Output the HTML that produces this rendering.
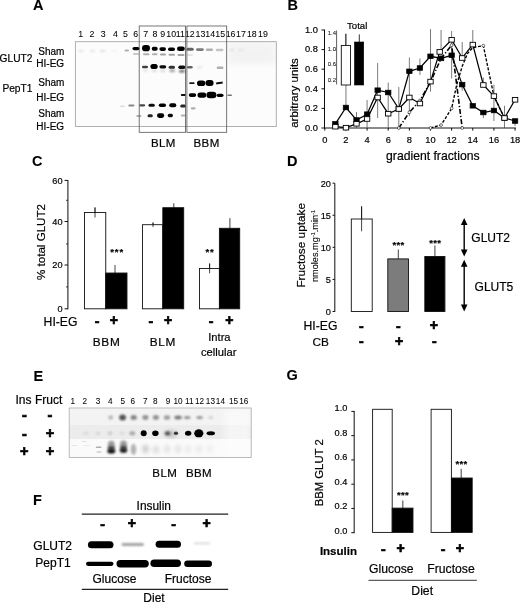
<!DOCTYPE html>
<html lang="en"><head><meta charset="utf-8"><title>Figure</title>
<style>
html,body{margin:0;padding:0;background:#fff;}
body{width:520px;height:603px;overflow:hidden;}
svg{display:block;font-family:'Liberation Sans', Arial, sans-serif;}
</style></head><body>
<svg width="520" height="603" viewBox="0 0 520 603" font-family="Liberation Sans, Arial, sans-serif">
<rect x="0" y="0" width="520" height="603" fill="#fff"/>
<defs>
<filter id="b05" x="-50%" y="-100%" width="200%" height="300%"><feGaussianBlur stdDeviation="0.5"/></filter>
<filter id="b1" x="-50%" y="-100%" width="200%" height="300%"><feGaussianBlur stdDeviation="0.62"/></filter>
<filter id="b15" x="-50%" y="-100%" width="200%" height="300%"><feGaussianBlur stdDeviation="1.2"/></filter>
<filter id="b2" x="-50%" y="-100%" width="200%" height="300%"><feGaussianBlur stdDeviation="2.0"/></filter>
<filter id="b3" x="-50%" y="-100%" width="200%" height="300%"><feGaussianBlur stdDeviation="3.0"/></filter>
<filter id="soft" x="-5%" y="-5%" width="110%" height="110%"><feGaussianBlur stdDeviation="0.35"/></filter>
</defs>
<g filter="url(#soft)">
<text x="32.9" y="9.8" font-size="14.5" text-anchor="start" font-weight="bold" fill="#000" stroke="#000" stroke-width="0.1">A</text>
<rect x="75.4" y="41.7" width="200.9" height="84.8" fill="#fcfcfc" stroke="#a8a8a8" stroke-width="0.9"/>
<rect x="228" y="42.5" width="47.5" height="22" fill="#000" opacity="0.035" filter="url(#b3)"/>
<text x="80.8" y="36.5" font-size="8.8" text-anchor="middle" font-weight="normal" fill="#000" stroke="#000" stroke-width="0.06">1</text>
<text x="92" y="36.5" font-size="8.8" text-anchor="middle" font-weight="normal" fill="#000" stroke="#000" stroke-width="0.06">2</text>
<text x="103.3" y="36.5" font-size="8.8" text-anchor="middle" font-weight="normal" fill="#000" stroke="#000" stroke-width="0.06">3</text>
<text x="115.5" y="36.5" font-size="8.8" text-anchor="middle" font-weight="normal" fill="#000" stroke="#000" stroke-width="0.06">4</text>
<text x="125.4" y="36.5" font-size="8.8" text-anchor="middle" font-weight="normal" fill="#000" stroke="#000" stroke-width="0.06">5</text>
<text x="135.7" y="36.5" font-size="8.8" text-anchor="middle" font-weight="normal" fill="#000" stroke="#000" stroke-width="0.06">6</text>
<text x="145.7" y="36.5" font-size="8.8" text-anchor="middle" font-weight="normal" fill="#000" stroke="#000" stroke-width="0.06">7</text>
<text x="154.9" y="36.5" font-size="8.8" text-anchor="middle" font-weight="normal" fill="#000" stroke="#000" stroke-width="0.06">8</text>
<text x="162.6" y="36.5" font-size="8.8" text-anchor="middle" font-weight="normal" fill="#000" stroke="#000" stroke-width="0.06">9</text>
<text x="171.2" y="36.5" font-size="8.8" text-anchor="middle" font-weight="normal" fill="#000" stroke="#000" stroke-width="0.06">10</text>
<text x="180.3" y="36.5" font-size="8.8" text-anchor="middle" font-weight="normal" fill="#000" stroke="#000" stroke-width="0.06">11</text>
<text x="189.8" y="36.5" font-size="8.8" text-anchor="middle" font-weight="normal" fill="#000" stroke="#000" stroke-width="0.06">12</text>
<text x="200.5" y="36.5" font-size="8.8" text-anchor="middle" font-weight="normal" fill="#000" stroke="#000" stroke-width="0.06">13</text>
<text x="210.2" y="36.5" font-size="8.8" text-anchor="middle" font-weight="normal" fill="#000" stroke="#000" stroke-width="0.06">14</text>
<text x="220.2" y="36.5" font-size="8.8" text-anchor="middle" font-weight="normal" fill="#000" stroke="#000" stroke-width="0.06">15</text>
<text x="230.6" y="36.5" font-size="8.8" text-anchor="middle" font-weight="normal" fill="#000" stroke="#000" stroke-width="0.06">16</text>
<text x="241" y="36.5" font-size="8.8" text-anchor="middle" font-weight="normal" fill="#000" stroke="#000" stroke-width="0.06">17</text>
<text x="251.8" y="36.5" font-size="8.8" text-anchor="middle" font-weight="normal" fill="#000" stroke="#000" stroke-width="0.06">18</text>
<text x="263" y="36.5" font-size="8.8" text-anchor="middle" font-weight="normal" fill="#000" stroke="#000" stroke-width="0.06">19</text>
<text x="-0.4" y="61.6" font-size="10.2" text-anchor="start" font-weight="normal" fill="#000" stroke="#000" stroke-width="0.2">GLUT2</text>
<text x="2.4" y="91.6" font-size="10.2" text-anchor="start" font-weight="normal" fill="#000" stroke="#000" stroke-width="0.2">PepT1</text>
<text x="38.3" y="54.5" font-size="10.0" text-anchor="start" font-weight="normal" fill="#000" stroke="#000" stroke-width="0.2">Sham</text>
<text x="36.3" y="67.0" font-size="10.0" text-anchor="start" font-weight="normal" fill="#000" stroke="#000" stroke-width="0.2">HI-EG</text>
<text x="38.3" y="85.7" font-size="10.0" text-anchor="start" font-weight="normal" fill="#000" stroke="#000" stroke-width="0.2">Sham</text>
<text x="36.3" y="100.5" font-size="10.0" text-anchor="start" font-weight="normal" fill="#000" stroke="#000" stroke-width="0.2">HI-EG</text>
<text x="38.3" y="117.3" font-size="10.0" text-anchor="start" font-weight="normal" fill="#000" stroke="#000" stroke-width="0.2">Sham</text>
<text x="36.3" y="130.3" font-size="10.0" text-anchor="start" font-weight="normal" fill="#000" stroke="#000" stroke-width="0.2">HI-EG</text>
<text x="151" y="147" font-size="11.5" text-anchor="start" font-weight="normal" fill="#000" letter-spacing="0.4" stroke="#000" stroke-width="0.2">BLM</text>
<text x="193.5" y="147" font-size="11.5" text-anchor="start" font-weight="normal" fill="#000" letter-spacing="0.4" stroke="#000" stroke-width="0.2">BBM</text>
<rect x="78.5" y="50.00" width="5.0" height="2" rx="1.00" fill="#000" opacity="0.1" filter="url(#b15)"/>
<rect x="90.0" y="50.00" width="5.0" height="2" rx="1.00" fill="#000" opacity="0.1" filter="url(#b15)"/>
<rect x="100.0" y="50.00" width="5.5" height="2" rx="1.00" fill="#000" opacity="0.12" filter="url(#b15)"/>
<rect x="112.0" y="50.00" width="5.0" height="2" rx="1.00" fill="#000" opacity="0.05" filter="url(#b15)"/>
<rect x="124.5" y="49.40" width="4.5" height="2.2" rx="1.10" fill="#000" opacity="0.3" filter="url(#b1)"/>
<rect x="132.5" y="47.00" width="7.0" height="3.2" rx="1.60" fill="#000" opacity="1" filter="url(#b1)"/>
<rect x="142.0" y="45.10" width="8.0" height="6.2" rx="3.10" fill="#000" opacity="1" filter="url(#b1)"/>
<rect x="151.7" y="46.80" width="6.0" height="4" rx="2.00" fill="#000" opacity="1" filter="url(#b1)"/>
<rect x="159.4" y="47.30" width="6.6" height="3.6" rx="1.80" fill="#000" opacity="1" filter="url(#b1)"/>
<rect x="168.0" y="47.50" width="7.0" height="3.6" rx="1.80" fill="#000" opacity="1" filter="url(#b1)"/>
<rect x="177.0" y="46.40" width="7.8" height="4.6" rx="2.30" fill="#000" opacity="1" filter="url(#b1)"/>
<rect x="186.5" y="47.70" width="7.2" height="3" rx="1.50" fill="#000" opacity="0.6" filter="url(#b1)"/>
<rect x="196.0" y="48.20" width="7.8" height="2.8" rx="1.40" fill="#000" opacity="0.5" filter="url(#b1)"/>
<rect x="205.8" y="48.55" width="7.2" height="2.5" rx="1.25" fill="#000" opacity="0.3" filter="url(#b1)"/>
<rect x="215.8" y="48.85" width="7.7" height="2.3" rx="1.15" fill="#000" opacity="0.22" filter="url(#b1)"/>
<rect x="229.5" y="49.00" width="4.5" height="2" rx="1.00" fill="#000" opacity="0.08" filter="url(#b15)"/>
<rect x="238.0" y="49.00" width="6.0" height="2" rx="1.00" fill="#000" opacity="0.06" filter="url(#b15)"/>
<rect x="133.0" y="53.10" width="6.0" height="1.8" rx="0.90" fill="#000" opacity="0.2" filter="url(#b1)"/>
<rect x="143.0" y="53.30" width="6.5" height="2" rx="1.00" fill="#000" opacity="0.3" filter="url(#b1)"/>
<rect x="152.0" y="53.30" width="5.5" height="2" rx="1.00" fill="#000" opacity="0.3" filter="url(#b1)"/>
<rect x="160.0" y="53.60" width="6.0" height="2" rx="1.00" fill="#000" opacity="0.35" filter="url(#b1)"/>
<rect x="168.5" y="53.80" width="6.5" height="2" rx="1.00" fill="#000" opacity="0.35" filter="url(#b1)"/>
<rect x="177.5" y="53.90" width="7.0" height="2" rx="1.00" fill="#000" opacity="0.35" filter="url(#b1)"/>
<rect x="187.0" y="54.20" width="6.0" height="1.6" rx="0.80" fill="#000" opacity="0.12" filter="url(#b1)"/>
<rect x="142.0" y="65.70" width="6.0" height="2.6" rx="1.30" fill="#000" opacity="0.75" filter="url(#b1)"/>
<rect x="150.4" y="64.10" width="7.3" height="5" rx="2.50" fill="#000" opacity="1" filter="url(#b1)"/>
<rect x="159.4" y="65.20" width="6.8" height="3.2" rx="1.60" fill="#000" opacity="0.95" filter="url(#b1)"/>
<rect x="168.6" y="65.70" width="6.4" height="3" rx="1.50" fill="#000" opacity="0.8" filter="url(#b1)"/>
<rect x="178.3" y="65.40" width="7.1" height="3.6" rx="1.80" fill="#000" opacity="0.95" filter="url(#b1)"/>
<rect x="187.0" y="65.90" width="5.7" height="2.6" rx="1.30" fill="#000" opacity="0.6" filter="url(#b1)"/>
<rect x="197.0" y="66.50" width="5.0" height="2" rx="1.00" fill="#000" opacity="0.1" filter="url(#b15)"/>
<rect x="216.7" y="66.60" width="6.8" height="2.4" rx="1.20" fill="#000" opacity="0.3" filter="url(#b1)"/>
<rect x="169.5" y="69.60" width="5.5" height="2.4" rx="1.20" fill="#000" opacity="0.4" filter="url(#b15)"/>
<rect x="179.0" y="69.90" width="6.0" height="2.6" rx="1.30" fill="#000" opacity="0.6" filter="url(#b15)"/>
<rect x="143.0" y="69.50" width="5.0" height="2" rx="1.00" fill="#000" opacity="0.12" filter="url(#b15)"/>
<rect x="152.0" y="70.00" width="5.0" height="2" rx="1.00" fill="#000" opacity="0.15" filter="url(#b15)"/>
<rect x="160.0" y="70.00" width="5.5" height="2" rx="1.00" fill="#000" opacity="0.15" filter="url(#b15)"/>
<rect x="189.2" y="82.30" width="5.4" height="1.8" rx="0.90" fill="#000" opacity="0.9" filter="url(#b05)"/>
<rect x="197.0" y="80.40" width="8.3" height="5.6" rx="2.80" fill="#000" opacity="1" filter="url(#b1)"/>
<rect x="205.5" y="80.10" width="8.1" height="5.8" rx="2.90" fill="#000" opacity="1" filter="url(#b1)"/>
<rect x="215.8" y="81.90" width="7.2" height="2.2" rx="1.10" fill="#000" opacity="0.95" filter="url(#b05)" transform="rotate(-8 219.4 83)"/>
<rect x="180.8" y="94.10" width="5.2" height="2" rx="1.00" fill="#000" opacity="0.95" filter="url(#b05)"/>
<rect x="188.8" y="93.30" width="7.4" height="3.6" rx="1.80" fill="#000" opacity="1" filter="url(#b1)"/>
<rect x="197.5" y="92.50" width="8.8" height="5.2" rx="2.60" fill="#000" opacity="1" filter="url(#b1)"/>
<rect x="206.5" y="91.70" width="9.9" height="6.6" rx="3.30" fill="#000" opacity="1" filter="url(#b1)"/>
<rect x="216.7" y="93.70" width="6.8" height="3.2" rx="1.60" fill="#000" opacity="1" filter="url(#b1)"/>
<rect x="227.3" y="94.40" width="4.7" height="1.6" rx="0.80" fill="#000" opacity="0.55" filter="url(#b05)"/>
<rect x="120.0" y="105.50" width="5.0" height="1.4" rx="0.70" fill="#000" opacity="0.12" filter="url(#b1)"/>
<rect x="128.3" y="104.50" width="6.1" height="2" rx="1.00" fill="#000" opacity="0.45" filter="url(#b1)"/>
<rect x="139.2" y="104.20" width="6.0" height="2.2" rx="1.10" fill="#000" opacity="0.7" filter="url(#b1)"/>
<rect x="148.5" y="103.70" width="6.3" height="3" rx="1.50" fill="#000" opacity="0.95" filter="url(#b1)"/>
<rect x="158.8" y="103.40" width="7.2" height="3.6" rx="1.80" fill="#000" opacity="1" filter="url(#b1)"/>
<rect x="169.2" y="103.20" width="7.1" height="4" rx="2.00" fill="#000" opacity="1" filter="url(#b1)"/>
<rect x="180.2" y="104.50" width="5.8" height="3" rx="1.50" fill="#000" opacity="0.85" filter="url(#b1)"/>
<rect x="190.8" y="107.20" width="4.8" height="2.2" rx="1.10" fill="#000" opacity="0.3" filter="url(#b1)"/>
<rect x="136.3" y="115.00" width="5.2" height="2" rx="1.00" fill="#000" opacity="0.3" filter="url(#b1)"/>
<rect x="147.5" y="114.30" width="5.3" height="3" rx="1.50" fill="#000" opacity="0.85" filter="url(#b1)"/>
<rect x="157.0" y="113.30" width="7.2" height="4.6" rx="2.30" fill="#000" opacity="1" filter="url(#b1)"/>
<rect x="167.7" y="113.80" width="5.3" height="3.4" rx="1.70" fill="#000" opacity="0.95" filter="url(#b1)"/>
<rect x="180.8" y="114.50" width="4.6" height="2" rx="1.00" fill="#000" opacity="0.3" filter="url(#b1)"/>
<rect x="139.2" y="26" width="46.4" height="106.3" fill="none" stroke="#555" stroke-width="0.8"/>
<rect x="186.9" y="26" width="39.8" height="106.3" fill="none" stroke="#555" stroke-width="0.8"/>
<text x="287.4" y="9.85" font-size="14.5" text-anchor="start" font-weight="bold" fill="#000" stroke="#000" stroke-width="0.1">B</text>
<line x1="324.5" y1="29.5" x2="324.5" y2="128.5" stroke="#111" stroke-width="1"/>
<line x1="324" y1="128" x2="516" y2="128" stroke="#111" stroke-width="1"/>
<line x1="321.5" y1="128" x2="324.5" y2="128" stroke="#111" stroke-width="1"/>
<text x="317.9" y="130.7" font-size="9.3" text-anchor="end" font-weight="normal" fill="#000" stroke="#000" stroke-width="0.2">0.0</text>
<line x1="321.5" y1="108.4" x2="324.5" y2="108.4" stroke="#111" stroke-width="1"/>
<text x="317.9" y="111.10000000000001" font-size="9.3" text-anchor="end" font-weight="normal" fill="#000" stroke="#000" stroke-width="0.2">0.2</text>
<line x1="321.5" y1="88.8" x2="324.5" y2="88.8" stroke="#111" stroke-width="1"/>
<text x="317.9" y="91.5" font-size="9.3" text-anchor="end" font-weight="normal" fill="#000" stroke="#000" stroke-width="0.2">0.4</text>
<line x1="321.5" y1="69.2" x2="324.5" y2="69.2" stroke="#111" stroke-width="1"/>
<text x="317.9" y="71.9" font-size="9.3" text-anchor="end" font-weight="normal" fill="#000" stroke="#000" stroke-width="0.2">0.6</text>
<line x1="321.5" y1="49.6" x2="324.5" y2="49.6" stroke="#111" stroke-width="1"/>
<text x="317.9" y="52.300000000000004" font-size="9.3" text-anchor="end" font-weight="normal" fill="#000" stroke="#000" stroke-width="0.2">0.8</text>
<line x1="321.5" y1="30.0" x2="324.5" y2="30.0" stroke="#111" stroke-width="1"/>
<text x="317.9" y="32.7" font-size="9.3" text-anchor="end" font-weight="normal" fill="#000" stroke="#000" stroke-width="0.2">1.0</text>
<line x1="324.8" y1="128" x2="324.8" y2="130.6" stroke="#111" stroke-width="1"/>
<text x="324.8" y="143.2" font-size="9.3" text-anchor="middle" font-weight="normal" fill="#000" stroke="#000" stroke-width="0.2">0</text>
<line x1="345.94" y1="128" x2="345.94" y2="130.6" stroke="#111" stroke-width="1"/>
<text x="345.94" y="143.2" font-size="9.3" text-anchor="middle" font-weight="normal" fill="#000" stroke="#000" stroke-width="0.2">2</text>
<line x1="367.08" y1="128" x2="367.08" y2="130.6" stroke="#111" stroke-width="1"/>
<text x="367.08" y="143.2" font-size="9.3" text-anchor="middle" font-weight="normal" fill="#000" stroke="#000" stroke-width="0.2">4</text>
<line x1="388.22" y1="128" x2="388.22" y2="130.6" stroke="#111" stroke-width="1"/>
<text x="388.22" y="143.2" font-size="9.3" text-anchor="middle" font-weight="normal" fill="#000" stroke="#000" stroke-width="0.2">6</text>
<line x1="409.36" y1="128" x2="409.36" y2="130.6" stroke="#111" stroke-width="1"/>
<text x="409.36" y="143.2" font-size="9.3" text-anchor="middle" font-weight="normal" fill="#000" stroke="#000" stroke-width="0.2">8</text>
<line x1="430.5" y1="128" x2="430.5" y2="130.6" stroke="#111" stroke-width="1"/>
<text x="430.5" y="143.2" font-size="9.3" text-anchor="middle" font-weight="normal" fill="#000" stroke="#000" stroke-width="0.2">10</text>
<line x1="451.64" y1="128" x2="451.64" y2="130.6" stroke="#111" stroke-width="1"/>
<text x="451.64" y="143.2" font-size="9.3" text-anchor="middle" font-weight="normal" fill="#000" stroke="#000" stroke-width="0.2">12</text>
<line x1="472.78" y1="128" x2="472.78" y2="130.6" stroke="#111" stroke-width="1"/>
<text x="472.78" y="143.2" font-size="9.3" text-anchor="middle" font-weight="normal" fill="#000" stroke="#000" stroke-width="0.2">14</text>
<line x1="493.92" y1="128" x2="493.92" y2="130.6" stroke="#111" stroke-width="1"/>
<text x="493.92" y="143.2" font-size="9.3" text-anchor="middle" font-weight="normal" fill="#000" stroke="#000" stroke-width="0.2">16</text>
<line x1="515.06" y1="128" x2="515.06" y2="130.6" stroke="#111" stroke-width="1"/>
<text x="515.06" y="143.2" font-size="9.3" text-anchor="middle" font-weight="normal" fill="#000" stroke="#000" stroke-width="0.2">18</text>
<text x="298.2" y="93" font-size="11.5" text-anchor="middle" font-weight="normal" fill="#000" transform="rotate(-90 298.2 93)" stroke="#000" stroke-width="0.2">arbitrary units</text>
<text x="432.8" y="159.9" font-size="12.2" text-anchor="middle" font-weight="normal" fill="#000" stroke="#000" stroke-width="0.2">gradient fractions</text>
<text x="357.2" y="28.5" font-size="9.6" text-anchor="middle" font-weight="normal" fill="#000" stroke="#000" stroke-width="0.2">Total</text>
<line x1="336.6" y1="30.5" x2="336.6" y2="84.5" stroke="#333" stroke-width="0.8"/>
<text x="336.0" y="35.1" font-size="5.9" text-anchor="end" font-weight="normal" fill="#111" stroke="#000" stroke-width="0.06">1.4</text>
<text x="336.0" y="51.300000000000004" font-size="5.9" text-anchor="end" font-weight="normal" fill="#111" stroke="#000" stroke-width="0.06">1.0</text>
<text x="336.0" y="66.19999999999999" font-size="5.9" text-anchor="end" font-weight="normal" fill="#111" stroke="#000" stroke-width="0.06">0.6</text>
<text x="336.0" y="81.5" font-size="5.9" text-anchor="end" font-weight="normal" fill="#111" stroke="#000" stroke-width="0.06">0.2</text>
<line x1="345.94" y1="33.5" x2="345.94" y2="107.5" stroke="#333" stroke-width="0.65"/>
<line x1="356.51" y1="112" x2="356.51" y2="127.7" stroke="#333" stroke-width="0.65"/>
<line x1="367.08" y1="100" x2="367.08" y2="127.7" stroke="#333" stroke-width="0.65"/>
<line x1="377.65" y1="63" x2="377.65" y2="118" stroke="#333" stroke-width="0.65"/>
<line x1="388.22" y1="82.5" x2="388.22" y2="127.7" stroke="#333" stroke-width="0.65"/>
<line x1="398.79" y1="87" x2="398.79" y2="127.7" stroke="#333" stroke-width="0.65"/>
<line x1="409.36" y1="57.5" x2="409.36" y2="116" stroke="#333" stroke-width="0.65"/>
<line x1="419.93" y1="58.5" x2="419.93" y2="75" stroke="#333" stroke-width="0.65"/>
<line x1="430.5" y1="29.1" x2="430.5" y2="91.7" stroke="#333" stroke-width="0.65"/>
<line x1="441.07" y1="30" x2="441.07" y2="58" stroke="#333" stroke-width="0.65"/>
<line x1="451.64" y1="31" x2="451.64" y2="78.5" stroke="#333" stroke-width="0.65"/>
<line x1="462.21" y1="42" x2="462.21" y2="58" stroke="#333" stroke-width="0.65"/>
<line x1="462.21" y1="84" x2="462.21" y2="90.7" stroke="#333" stroke-width="0.65"/>
<line x1="472.78" y1="30" x2="472.78" y2="44.6" stroke="#333" stroke-width="0.65"/>
<line x1="483.35" y1="77.5" x2="483.35" y2="85" stroke="#333" stroke-width="0.65"/>
<line x1="483.35" y1="112" x2="483.35" y2="118" stroke="#333" stroke-width="0.65"/>
<line x1="493.92" y1="84.6" x2="493.92" y2="121" stroke="#333" stroke-width="0.65"/>
<line x1="504.49" y1="105.8" x2="504.49" y2="128" stroke="#333" stroke-width="0.65"/>
<line x1="515.06" y1="121" x2="515.06" y2="126" stroke="#333" stroke-width="0.65"/>
<polyline points="398.79,128 409.36,112.32 419.93,100.56 430.5,81.94 441.07,58.42 451.64,45.19 462.21,128" fill="none" stroke="#000" stroke-width="1.6" stroke-dasharray="5 2 1.2 2"/>
<polyline points="430.5,128 441.07,125.06 451.64,108.4 456.93,83.9 462.21,66.26 467.5,53.52 472.78,47.64 483.35,45.68 493.92,96.15 504.49,118.2" fill="none" stroke="#000" stroke-width="1.35" stroke-dasharray="3 1.6"/>
<circle cx="398.79" cy="128" r="1.4" fill="#fff" stroke="#111" stroke-width="0.6"/>
<circle cx="409.36" cy="112.32" r="1.4" fill="#fff" stroke="#111" stroke-width="0.6"/>
<circle cx="419.93" cy="100.56" r="1.4" fill="#fff" stroke="#111" stroke-width="0.6"/>
<circle cx="430.5" cy="81.94" r="1.4" fill="#fff" stroke="#111" stroke-width="0.6"/>
<circle cx="441.07" cy="58.42" r="1.4" fill="#fff" stroke="#111" stroke-width="0.6"/>
<circle cx="451.64" cy="45.19" r="1.4" fill="#fff" stroke="#111" stroke-width="0.6"/>
<circle cx="462.21" cy="128" r="1.4" fill="#fff" stroke="#111" stroke-width="0.6"/>
<circle cx="430.5" cy="128" r="1.4" fill="#fff" stroke="#111" stroke-width="0.6"/>
<circle cx="441.07" cy="125.06" r="1.4" fill="#fff" stroke="#111" stroke-width="0.6"/>
<circle cx="451.64" cy="108.4" r="1.4" fill="#fff" stroke="#111" stroke-width="0.6"/>
<circle cx="483.35" cy="45.68" r="1.4" fill="#fff" stroke="#111" stroke-width="0.6"/>
<polyline points="335.37,123.8 345.94,107.5 356.51,120 367.08,114.2 377.65,90.2 388.22,92.5 398.79,108.8 409.36,71.3 419.93,68 430.5,56.3 441.07,58.4 451.64,55.3 462.21,84.6 472.78,105.8 483.35,112.5 493.92,110.5 504.49,118 515.06,121" fill="none" stroke="#000" stroke-width="1.25"/>
<polyline points="335.37,126.7 345.94,127.7 356.51,123.8 367.08,119 377.65,97.5 388.22,113.7 398.79,109 409.36,97.5 419.93,103.5 430.5,81.6 439.7,51.9 451.64,39.8 462.21,58 472.78,44.6 483.35,85 493.92,96.1 504.49,118 515.06,99.8" fill="none" stroke="#000" stroke-width="1.25"/>
<rect x="332.67" y="121.5" width="5.4" height="4.6" fill="#000" stroke="#000" stroke-width="0.7"/>
<rect x="343.24" y="105.2" width="5.4" height="4.6" fill="#000" stroke="#000" stroke-width="0.7"/>
<rect x="353.81" y="117.7" width="5.4" height="4.6" fill="#000" stroke="#000" stroke-width="0.7"/>
<rect x="364.38" y="111.9" width="5.4" height="4.6" fill="#000" stroke="#000" stroke-width="0.7"/>
<rect x="374.95" y="87.9" width="5.4" height="4.6" fill="#000" stroke="#000" stroke-width="0.7"/>
<rect x="385.52" y="90.2" width="5.4" height="4.6" fill="#000" stroke="#000" stroke-width="0.7"/>
<rect x="396.09" y="106.5" width="5.4" height="4.6" fill="#000" stroke="#000" stroke-width="0.7"/>
<rect x="406.66" y="69.0" width="5.4" height="4.6" fill="#000" stroke="#000" stroke-width="0.7"/>
<rect x="417.23" y="65.7" width="5.4" height="4.6" fill="#000" stroke="#000" stroke-width="0.7"/>
<rect x="427.8" y="54.0" width="5.4" height="4.6" fill="#000" stroke="#000" stroke-width="0.7"/>
<rect x="438.37" y="56.1" width="5.4" height="4.6" fill="#000" stroke="#000" stroke-width="0.7"/>
<rect x="448.94" y="53.0" width="5.4" height="4.6" fill="#000" stroke="#000" stroke-width="0.7"/>
<rect x="459.51" y="82.3" width="5.4" height="4.6" fill="#000" stroke="#000" stroke-width="0.7"/>
<rect x="470.08" y="103.5" width="5.4" height="4.6" fill="#000" stroke="#000" stroke-width="0.7"/>
<rect x="480.65" y="110.2" width="5.4" height="4.6" fill="#000" stroke="#000" stroke-width="0.7"/>
<rect x="491.22" y="108.2" width="5.4" height="4.6" fill="#000" stroke="#000" stroke-width="0.7"/>
<rect x="501.79" y="115.7" width="5.4" height="4.6" fill="#000" stroke="#000" stroke-width="0.7"/>
<rect x="512.36" y="118.7" width="5.4" height="4.6" fill="#000" stroke="#000" stroke-width="0.7"/>
<rect x="332.67" y="124.4" width="5.4" height="4.6" fill="#fff" stroke="#000" stroke-width="0.9"/>
<rect x="343.24" y="125.4" width="5.4" height="4.6" fill="#fff" stroke="#000" stroke-width="0.9"/>
<rect x="353.81" y="121.5" width="5.4" height="4.6" fill="#fff" stroke="#000" stroke-width="0.9"/>
<rect x="364.38" y="116.7" width="5.4" height="4.6" fill="#fff" stroke="#000" stroke-width="0.9"/>
<rect x="374.95" y="95.2" width="5.4" height="4.6" fill="#fff" stroke="#000" stroke-width="0.9"/>
<rect x="385.52" y="111.4" width="5.4" height="4.6" fill="#fff" stroke="#000" stroke-width="0.9"/>
<rect x="396.09" y="106.7" width="5.4" height="4.6" fill="#fff" stroke="#000" stroke-width="0.9"/>
<rect x="406.66" y="95.2" width="5.4" height="4.6" fill="#fff" stroke="#000" stroke-width="0.9"/>
<rect x="417.23" y="101.2" width="5.4" height="4.6" fill="#fff" stroke="#000" stroke-width="0.9"/>
<rect x="427.8" y="79.3" width="5.4" height="4.6" fill="#fff" stroke="#000" stroke-width="0.9"/>
<rect x="437.0" y="49.6" width="5.4" height="4.6" fill="#fff" stroke="#000" stroke-width="0.9"/>
<rect x="448.94" y="37.5" width="5.4" height="4.6" fill="#fff" stroke="#000" stroke-width="0.9"/>
<rect x="459.51" y="55.7" width="5.4" height="4.6" fill="#fff" stroke="#000" stroke-width="0.9"/>
<rect x="470.08" y="42.3" width="5.4" height="4.6" fill="#fff" stroke="#000" stroke-width="0.9"/>
<rect x="480.65" y="82.7" width="5.4" height="4.6" fill="#fff" stroke="#000" stroke-width="0.9"/>
<rect x="491.22" y="93.8" width="5.4" height="4.6" fill="#fff" stroke="#000" stroke-width="0.9"/>
<rect x="501.79" y="115.7" width="5.4" height="4.6" fill="#fff" stroke="#000" stroke-width="0.9"/>
<rect x="512.36" y="97.5" width="5.4" height="4.6" fill="#fff" stroke="#000" stroke-width="0.9"/>
<line x1="345.8" y1="34" x2="345.8" y2="46" stroke="#000" stroke-width="0.8"/>
<rect x="341.3" y="45.5" width="9.2" height="39.5" fill="#fff" stroke="#111" stroke-width="0.9"/>
<line x1="359.3" y1="34.4" x2="359.3" y2="43" stroke="#000" stroke-width="0.8"/>
<rect x="354.5" y="42" width="9.2" height="43" fill="#000" stroke="#000" stroke-width="0.6"/>
<text x="32.0" y="166.0" font-size="14.5" text-anchor="start" font-weight="bold" fill="#000" stroke="#000" stroke-width="0.1">C</text>
<line x1="67.9" y1="180" x2="67.9" y2="309.3" stroke="#111" stroke-width="1"/>
<line x1="64.6" y1="308.8" x2="67.9" y2="308.8" stroke="#111" stroke-width="1"/>
<text x="62.6" y="312.1" font-size="9.2" text-anchor="end" font-weight="normal" fill="#000" stroke="#000" stroke-width="0.2">0</text>
<line x1="64.6" y1="265" x2="67.9" y2="265" stroke="#111" stroke-width="1"/>
<text x="62.6" y="268.3" font-size="9.2" text-anchor="end" font-weight="normal" fill="#000" stroke="#000" stroke-width="0.2">20</text>
<line x1="64.6" y1="221.5" x2="67.9" y2="221.5" stroke="#111" stroke-width="1"/>
<text x="62.6" y="224.8" font-size="9.2" text-anchor="end" font-weight="normal" fill="#000" stroke="#000" stroke-width="0.2">40</text>
<line x1="64.6" y1="180.4" x2="67.9" y2="180.4" stroke="#111" stroke-width="1"/>
<text x="62.6" y="183.70000000000002" font-size="9.2" text-anchor="end" font-weight="normal" fill="#000" stroke="#000" stroke-width="0.2">60</text>
<line x1="66" y1="286.9" x2="67.9" y2="286.9" stroke="#111" stroke-width="0.8"/>
<line x1="66" y1="243.9" x2="67.9" y2="243.9" stroke="#111" stroke-width="0.8"/>
<line x1="66" y1="200.3" x2="67.9" y2="200.3" stroke="#111" stroke-width="0.8"/>
<text x="45" y="242" font-size="11.6" text-anchor="middle" font-weight="normal" fill="#000" transform="rotate(-90 45 242)" stroke="#000" stroke-width="0.2">% total GLUT2</text>
<line x1="95" y1="207.5" x2="95" y2="217.5" stroke="#111" stroke-width="0.8"/>
<rect x="84.5" y="212.5" width="21.25" height="96.3" fill="#fff" stroke="#111" stroke-width="0.9"/>
<line x1="115" y1="265" x2="115" y2="273" stroke="#111" stroke-width="0.8"/>
<rect x="105.75" y="273" width="21.25" height="35.8" fill="#000" stroke="#111" stroke-width="0.9"/>
<line x1="153" y1="222.6" x2="153" y2="227" stroke="#111" stroke-width="0.8"/>
<rect x="142.5" y="224.7" width="20.3" height="84.1" fill="#fff" stroke="#111" stroke-width="0.9"/>
<line x1="173.8" y1="203.3" x2="173.8" y2="207.7" stroke="#111" stroke-width="0.8"/>
<rect x="162.8" y="207.7" width="20.9" height="101.1" fill="#000" stroke="#111" stroke-width="0.9"/>
<line x1="209.6" y1="263.5" x2="209.6" y2="273.3" stroke="#111" stroke-width="0.8"/>
<rect x="199.5" y="268.5" width="19.9" height="40.3" fill="#fff" stroke="#111" stroke-width="0.9"/>
<line x1="229.9" y1="218.2" x2="229.9" y2="228.3" stroke="#111" stroke-width="0.8"/>
<rect x="219.4" y="228.3" width="20.3" height="80.5" fill="#000" stroke="#111" stroke-width="0.9"/>
<line x1="95" y1="207.5" x2="95" y2="217.5" stroke="#111" stroke-width="0.8"/>
<line x1="153" y1="222.6" x2="153" y2="227" stroke="#111" stroke-width="0.8"/>
<line x1="209.6" y1="263.5" x2="209.6" y2="273.3" stroke="#111" stroke-width="0.8"/>
<text x="117.2" y="255" font-size="9.5" text-anchor="middle" font-weight="bold" fill="#000" letter-spacing="1.0" stroke="#000" stroke-width="0.2">***</text>
<text x="210.1" y="254.5" font-size="9.5" text-anchor="middle" font-weight="bold" fill="#000" letter-spacing="1.0" stroke="#000" stroke-width="0.2">**</text>
<text x="43.6" y="325.6" font-size="12.2" text-anchor="start" font-weight="normal" fill="#000" stroke="#000" stroke-width="0.2">HI-EG</text>
<text x="97" y="325.5" font-size="14" text-anchor="middle" font-weight="bold" fill="#000" stroke="#000" stroke-width="0.7">-</text>
<text x="113.75" y="324.6" font-size="14" text-anchor="middle" font-weight="bold" fill="#000" stroke="#000" stroke-width="0.7">+</text>
<text x="150.9" y="325.5" font-size="14" text-anchor="middle" font-weight="bold" fill="#000" stroke="#000" stroke-width="0.7">-</text>
<text x="168.2" y="324.6" font-size="14" text-anchor="middle" font-weight="bold" fill="#000" stroke="#000" stroke-width="0.7">+</text>
<text x="211.1" y="325.5" font-size="14" text-anchor="middle" font-weight="bold" fill="#000" stroke="#000" stroke-width="0.7">-</text>
<text x="229.3" y="324.6" font-size="14" text-anchor="middle" font-weight="bold" fill="#000" stroke="#000" stroke-width="0.7">+</text>
<text x="92.8" y="346.2" font-size="11.8" text-anchor="start" font-weight="normal" fill="#000" letter-spacing="0.7" stroke="#000" stroke-width="0.2">BBM</text>
<text x="149.8" y="346.2" font-size="11.8" text-anchor="start" font-weight="normal" fill="#000" letter-spacing="0.6" stroke="#000" stroke-width="0.2">BLM</text>
<text x="219.4" y="340.8" font-size="11.2" text-anchor="middle" font-weight="normal" fill="#000" stroke="#000" stroke-width="0.2">Intra</text>
<text x="218.7" y="355.6" font-size="11.2" text-anchor="middle" font-weight="normal" fill="#000" stroke="#000" stroke-width="0.2">cellular</text>
<text x="287.0" y="165.8" font-size="14.5" text-anchor="start" font-weight="bold" fill="#000" stroke="#000" stroke-width="0.1">D</text>
<line x1="334.8" y1="183.2" x2="334.8" y2="311.9" stroke="#111" stroke-width="1"/>
<line x1="332.6" y1="311.5" x2="334.8" y2="311.5" stroke="#111" stroke-width="1"/>
<text x="330.9" y="314.9" font-size="9.2" text-anchor="end" font-weight="normal" fill="#000" stroke="#000" stroke-width="0.2">0</text>
<line x1="332.6" y1="279.42" x2="334.8" y2="279.42" stroke="#111" stroke-width="1"/>
<text x="330.9" y="282.82" font-size="9.2" text-anchor="end" font-weight="normal" fill="#000" stroke="#000" stroke-width="0.2">5</text>
<line x1="332.6" y1="247.34" x2="334.8" y2="247.34" stroke="#111" stroke-width="1"/>
<text x="330.9" y="250.74" font-size="9.2" text-anchor="end" font-weight="normal" fill="#000" stroke="#000" stroke-width="0.2">10</text>
<line x1="332.6" y1="215.26" x2="334.8" y2="215.26" stroke="#111" stroke-width="1"/>
<text x="330.9" y="218.66" font-size="9.2" text-anchor="end" font-weight="normal" fill="#000" stroke="#000" stroke-width="0.2">15</text>
<line x1="332.6" y1="183.18" x2="334.8" y2="183.18" stroke="#111" stroke-width="1"/>
<text x="330.9" y="186.58" font-size="9.2" text-anchor="end" font-weight="normal" fill="#000" stroke="#000" stroke-width="0.2">20</text>
<text x="305.5" y="245.3" font-size="11.8" text-anchor="middle" font-weight="normal" fill="#000" transform="rotate(-90 305.5 245.3)" stroke="#000" stroke-width="0.2">Fructose uptake</text>
<text x="318" y="246" font-size="9.2" text-anchor="middle" fill="#000" stroke="#000" stroke-width="0.1" transform="rotate(-90 318 246)">nmoles.mg<tspan font-size="5.5" dy="-3.2">-1</tspan><tspan dy="3.2">.min</tspan><tspan font-size="5.5" dy="-3.2">-1</tspan></text>
<line x1="361.6" y1="206.4" x2="361.6" y2="231.3" stroke="#111" stroke-width="0.8"/>
<rect x="351.3" y="219" width="20.9" height="92.5" fill="#fff" stroke="#111" stroke-width="0.9"/>
<line x1="361.6" y1="206.4" x2="361.6" y2="231.3" stroke="#111" stroke-width="0.8"/>
<line x1="398.3" y1="249.5" x2="398.3" y2="258.9" stroke="#111" stroke-width="0.8"/>
<rect x="387.8" y="258.9" width="20.7" height="52.6" fill="#7c7c7c" stroke="#111" stroke-width="0.9"/>
<line x1="434.9" y1="245.5" x2="434.9" y2="256.5" stroke="#111" stroke-width="0.8"/>
<rect x="424.8" y="256.5" width="20.1" height="55.0" fill="#000" stroke="#111" stroke-width="0.9"/>
<text x="398.5" y="248.2" font-size="9.5" text-anchor="middle" font-weight="bold" fill="#000" letter-spacing="0.3" stroke="#000" stroke-width="0.2">***</text>
<text x="435.2" y="245.9" font-size="9.5" text-anchor="middle" font-weight="bold" fill="#000" letter-spacing="0.3" stroke="#000" stroke-width="0.2">***</text>
<text x="303.5" y="330" font-size="12.2" text-anchor="start" font-weight="normal" fill="#000" stroke="#000" stroke-width="0.2">HI-EG</text>
<text x="312.5" y="346" font-size="11.8" text-anchor="start" font-weight="normal" fill="#000" stroke="#000" stroke-width="0.2">CB</text>
<text x="361.3" y="331.1" font-size="14" text-anchor="middle" font-weight="bold" fill="#000" stroke="#000" stroke-width="0.7">-</text>
<text x="398.4" y="330.7" font-size="14" text-anchor="middle" font-weight="bold" fill="#000" stroke="#000" stroke-width="0.7">-</text>
<text x="433.8" y="330" font-size="14" text-anchor="middle" font-weight="bold" fill="#000" stroke="#000" stroke-width="0.7">+</text>
<text x="361.3" y="346.4" font-size="14" text-anchor="middle" font-weight="bold" fill="#000" stroke="#000" stroke-width="0.7">-</text>
<text x="399.2" y="346.2" font-size="14" text-anchor="middle" font-weight="bold" fill="#000" stroke="#000" stroke-width="0.7">+</text>
<text x="434.4" y="346.3" font-size="14" text-anchor="middle" font-weight="bold" fill="#000" stroke="#000" stroke-width="0.7">-</text>
<line x1="464.2" y1="221" x2="464.2" y2="253.60000000000002" stroke="#000" stroke-width="1.4"/>
<polygon points="464.2,218 460.9,225 467.5,225" fill="#000"/>
<polygon points="464.2,256.6 460.9,249.60000000000002 467.5,249.60000000000002" fill="#000"/>
<line x1="464.2" y1="262.7" x2="464.2" y2="308.5" stroke="#000" stroke-width="1.4"/>
<polygon points="464.2,259.7 460.9,266.7 467.5,266.7" fill="#000"/>
<polygon points="464.2,311.5 460.9,304.5 467.5,304.5" fill="#000"/>
<text x="471.3" y="242" font-size="12" text-anchor="start" font-weight="normal" fill="#000" stroke="#000" stroke-width="0.2">GLUT2</text>
<text x="474.6" y="290.5" font-size="12" text-anchor="start" font-weight="normal" fill="#000" stroke="#000" stroke-width="0.2">GLUT5</text>
<text x="33.5" y="381.2" font-size="14.5" text-anchor="start" font-weight="bold" fill="#000" stroke="#000" stroke-width="0.1">E</text>
<text x="15.5" y="404.3" font-size="12" text-anchor="start" font-weight="normal" fill="#000" stroke="#000" stroke-width="0.2">Ins</text>
<text x="35" y="404.3" font-size="12" text-anchor="start" font-weight="normal" fill="#000" stroke="#000" stroke-width="0.2">Fruct</text>
<text x="72.7" y="404.1" font-size="8.2" text-anchor="middle" font-weight="normal" fill="#000" stroke="#000" stroke-width="0.06">1</text>
<text x="84.8" y="404.1" font-size="8.2" text-anchor="middle" font-weight="normal" fill="#000" stroke="#000" stroke-width="0.06">2</text>
<text x="98" y="404.1" font-size="8.2" text-anchor="middle" font-weight="normal" fill="#000" stroke="#000" stroke-width="0.06">3</text>
<text x="110.2" y="404.1" font-size="8.2" text-anchor="middle" font-weight="normal" fill="#000" stroke="#000" stroke-width="0.06">4</text>
<text x="122.7" y="404.1" font-size="8.2" text-anchor="middle" font-weight="normal" fill="#000" stroke="#000" stroke-width="0.06">5</text>
<text x="132.9" y="404.1" font-size="8.2" text-anchor="middle" font-weight="normal" fill="#000" stroke="#000" stroke-width="0.06">6</text>
<text x="145.4" y="404.1" font-size="8.2" text-anchor="middle" font-weight="normal" fill="#000" stroke="#000" stroke-width="0.06">7</text>
<text x="155.4" y="404.1" font-size="8.2" text-anchor="middle" font-weight="normal" fill="#000" stroke="#000" stroke-width="0.06">8</text>
<text x="168" y="404.1" font-size="8.2" text-anchor="middle" font-weight="normal" fill="#000" stroke="#000" stroke-width="0.06">9</text>
<text x="178" y="404.1" font-size="8.2" text-anchor="middle" font-weight="normal" fill="#000" stroke="#000" stroke-width="0.06">10</text>
<text x="189.2" y="404.1" font-size="8.2" text-anchor="middle" font-weight="normal" fill="#000" stroke="#000" stroke-width="0.06">11</text>
<text x="199.6" y="404.1" font-size="8.2" text-anchor="middle" font-weight="normal" fill="#000" stroke="#000" stroke-width="0.06">12</text>
<text x="210.4" y="404.1" font-size="8.2" text-anchor="middle" font-weight="normal" fill="#000" stroke="#000" stroke-width="0.06">13</text>
<text x="220.4" y="404.1" font-size="8.2" text-anchor="middle" font-weight="normal" fill="#000" stroke="#000" stroke-width="0.06">14</text>
<text x="233.5" y="404.1" font-size="8.2" text-anchor="middle" font-weight="normal" fill="#000" stroke="#000" stroke-width="0.06">15</text>
<text x="243.8" y="404.1" font-size="8.2" text-anchor="middle" font-weight="normal" fill="#000" stroke="#000" stroke-width="0.06">16</text>
<rect x="69.6" y="408.4" width="181.6" height="16.4" fill="#f3f3f3"/>
<rect x="69.6" y="424.8" width="181.6" height="14.2" fill="#ececec"/>
<rect x="69.6" y="439" width="181.6" height="18.2" fill="#fafafa"/>
<rect x="225" y="408.4" width="26" height="48" fill="#fff" opacity="0.5" filter="url(#b3)"/>
<ellipse cx="110.7" cy="417.5" rx="2.40" ry="2.30" fill="#000" opacity="0.24" filter="url(#b15)"/>
<ellipse cx="122.6" cy="417.5" rx="3.40" ry="2.90" fill="#000" opacity="0.66" filter="url(#b15)"/>
<ellipse cx="133.7" cy="417.5" rx="3.20" ry="2.50" fill="#000" opacity="0.45" filter="url(#b15)"/>
<ellipse cx="145.4" cy="417.5" rx="3.10" ry="2.40" fill="#000" opacity="0.4" filter="url(#b15)"/>
<ellipse cx="155.9" cy="417.5" rx="3.10" ry="2.40" fill="#000" opacity="0.4" filter="url(#b15)"/>
<ellipse cx="167.0" cy="417.5" rx="3.20" ry="2.30" fill="#000" opacity="0.35" filter="url(#b15)"/>
<ellipse cx="178.1" cy="417.5" rx="3.80" ry="1.90" fill="#000" opacity="0.5" filter="url(#b15)"/>
<ellipse cx="187.2" cy="417.5" rx="3.30" ry="1.60" fill="#000" opacity="0.4" filter="url(#b15)"/>
<ellipse cx="199.6" cy="417.5" rx="3.30" ry="1.30" fill="#000" opacity="0.45" filter="url(#b15)"/>
<ellipse cx="210.8" cy="417.5" rx="2.80" ry="1.20" fill="#000" opacity="0.15" filter="url(#b15)"/>
<ellipse cx="132.3" cy="433.3" rx="2.80" ry="2.00" fill="#000" opacity="0.3" filter="url(#b15)"/>
<ellipse cx="143.7" cy="433.3" rx="3.00" ry="3.00" fill="#000" opacity="1" filter="url(#b1)"/>
<ellipse cx="155.4" cy="433.3" rx="3.20" ry="2.80" fill="#000" opacity="1" filter="url(#b1)"/>
<ellipse cx="167.5" cy="433.3" rx="2.80" ry="2.10" fill="#000" opacity="0.6" filter="url(#b15)"/>
<ellipse cx="176.0" cy="433.3" rx="2.10" ry="1.80" fill="#000" opacity="0.75" filter="url(#b1)"/>
<ellipse cx="188.2" cy="433.3" rx="3.20" ry="2.50" fill="#000" opacity="1" filter="url(#b1)"/>
<ellipse cx="198.8" cy="433.3" rx="4.60" ry="4.00" fill="#000" opacity="1" filter="url(#b1)"/>
<ellipse cx="210.8" cy="433.3" rx="4.20" ry="2.00" fill="#000" opacity="1" filter="url(#b1)"/>
<ellipse cx="98.0" cy="433.3" rx="2.50" ry="1.50" fill="#000" opacity="0.1" filter="url(#b15)"/>
<ellipse cx="110.0" cy="433.3" rx="2.50" ry="2.00" fill="#000" opacity="0.12" filter="url(#b15)"/>
<ellipse cx="122.0" cy="433.3" rx="2.50" ry="1.50" fill="#000" opacity="0.08" filter="url(#b15)"/>
<ellipse cx="86.0" cy="433.3" rx="3.00" ry="1.50" fill="#000" opacity="0.08" filter="url(#b15)"/>
<ellipse cx="171.0" cy="434.0" rx="6.00" ry="3.50" fill="#000" opacity="0.18" filter="url(#b2)"/>
<rect x="95.8" y="446.50" width="5.7" height="1.6" rx="0.80" fill="#000" opacity="0.3" filter="url(#b1)"/>
<rect x="96.5" y="451.20" width="5.0" height="1.6" rx="0.80" fill="#000" opacity="0.18" filter="url(#b1)"/>
<rect x="71.5" y="444.90" width="6.0" height="0.8" rx="0.40" fill="#000" opacity="0.1" filter="url(#b05)"/>
<rect x="82.0" y="441.10" width="4.5" height="0.8" rx="0.40" fill="#000" opacity="0.1" filter="url(#b05)"/>
<rect x="84.0" y="445.20" width="6.0" height="0.8" rx="0.40" fill="#000" opacity="0.08" filter="url(#b05)"/>
<ellipse cx="111.3" cy="451.3" rx="4.00" ry="2.30" fill="#000" opacity="0.92" filter="url(#b15)"/>
<ellipse cx="111.3" cy="448.2" rx="3.75" ry="2.00" fill="#000" opacity="0.6" filter="url(#b15)"/>
<ellipse cx="111.3" cy="445.0" rx="3.50" ry="4.25" fill="#000" opacity="0.38" filter="url(#b15)"/>
<ellipse cx="123.5" cy="450.6" rx="3.80" ry="2.30" fill="#000" opacity="0.85" filter="url(#b15)"/>
<ellipse cx="123.5" cy="447.8" rx="3.70" ry="2.00" fill="#000" opacity="0.55" filter="url(#b15)"/>
<ellipse cx="123.5" cy="444.6" rx="3.50" ry="4.00" fill="#000" opacity="0.38" filter="url(#b15)"/>
<ellipse cx="133.5" cy="449.3" rx="2.80" ry="5.50" fill="#000" opacity="0.28" filter="url(#b15)"/>
<ellipse cx="145.5" cy="449.0" rx="3.00" ry="4.00" fill="#000" opacity="0.2" filter="url(#b2)"/>
<ellipse cx="156.0" cy="449.5" rx="3.00" ry="3.50" fill="#000" opacity="0.14" filter="url(#b2)"/>
<ellipse cx="167.0" cy="449.0" rx="3.00" ry="4.00" fill="#000" opacity="0.1" filter="url(#b2)"/>
<ellipse cx="178.0" cy="449.0" rx="3.00" ry="4.00" fill="#000" opacity="0.1" filter="url(#b2)"/>
<ellipse cx="188.0" cy="449.0" rx="3.00" ry="4.00" fill="#000" opacity="0.07" filter="url(#b2)"/>
<ellipse cx="199.0" cy="449.0" rx="3.00" ry="4.00" fill="#000" opacity="0.07" filter="url(#b2)"/>
<ellipse cx="210.0" cy="449.0" rx="3.00" ry="4.00" fill="#000" opacity="0.05" filter="url(#b2)"/>
<rect x="69.2" y="408" width="182" height="49.5" fill="none" stroke="#aaa" stroke-width="0.8"/>
<text x="24.5" y="420" font-size="14.5" text-anchor="middle" font-weight="bold" fill="#000" stroke="#000" stroke-width="0.7">-</text>
<text x="50" y="420" font-size="14.5" text-anchor="middle" font-weight="bold" fill="#000" stroke="#000" stroke-width="0.7">-</text>
<text x="24.5" y="438.5" font-size="14.5" text-anchor="middle" font-weight="bold" fill="#000" stroke="#000" stroke-width="0.7">-</text>
<text x="50" y="438" font-size="14.5" text-anchor="middle" font-weight="bold" fill="#000" stroke="#000" stroke-width="0.7">+</text>
<text x="24.3" y="455.5" font-size="14.5" text-anchor="middle" font-weight="bold" fill="#000" stroke="#000" stroke-width="0.7">+</text>
<text x="50" y="455.5" font-size="14.5" text-anchor="middle" font-weight="bold" fill="#000" stroke="#000" stroke-width="0.7">+</text>
<text x="152.3" y="476.5" font-size="11.5" text-anchor="start" font-weight="normal" fill="#000" letter-spacing="0.5" stroke="#000" stroke-width="0.2">BLM</text>
<text x="186" y="476.5" font-size="11.5" text-anchor="start" font-weight="normal" fill="#000" letter-spacing="0.3" stroke="#000" stroke-width="0.2">BBM</text>
<text x="32.9" y="504.8" font-size="14.5" text-anchor="start" font-weight="bold" fill="#000" stroke="#000" stroke-width="0.1">F</text>
<text x="153.8" y="509.5" font-size="11.9" text-anchor="middle" font-weight="normal" fill="#000" stroke="#000" stroke-width="0.2">Insulin</text>
<line x1="81.8" y1="514" x2="228.2" y2="514" stroke="#222" stroke-width="1.25"/>
<text x="102.7" y="529.3" font-size="14" text-anchor="middle" font-weight="bold" fill="#000" stroke="#000" stroke-width="0.7">-</text>
<text x="131.9" y="528" font-size="14" text-anchor="middle" font-weight="bold" fill="#000" stroke="#000" stroke-width="0.7">+</text>
<text x="173.5" y="529.3" font-size="14" text-anchor="middle" font-weight="bold" fill="#000" stroke="#000" stroke-width="0.7">-</text>
<text x="206.7" y="528" font-size="14" text-anchor="middle" font-weight="bold" fill="#000" stroke="#000" stroke-width="0.7">+</text>
<text x="33.3" y="549.9" font-size="12" text-anchor="start" font-weight="normal" fill="#000" stroke="#000" stroke-width="0.2">GLUT2</text>
<text x="35.3" y="566.8" font-size="12" text-anchor="start" font-weight="normal" fill="#000" stroke="#000" stroke-width="0.2">PepT1</text>
<rect x="87.9" y="541.30" width="25.6" height="7" rx="3.50" fill="#000" opacity="1" filter="url(#b1)"/>
<rect x="121.5" y="543.10" width="22.5" height="2.8" rx="1.40" fill="#000" opacity="0.36" filter="url(#b15)"/>
<rect x="155.6" y="540.80" width="25.4" height="7" rx="3.50" fill="#000" opacity="1" filter="url(#b1)"/>
<rect x="193.5" y="542.40" width="16.9" height="1.8" rx="0.90" fill="#000" opacity="0.16" filter="url(#b15)"/>
<rect x="86.0" y="561.70" width="27.5" height="4.2" rx="2.10" fill="#000" opacity="1" filter="url(#b1)"/>
<rect x="116.5" y="560.10" width="32.3" height="7.4" rx="3.70" fill="#000" opacity="1" filter="url(#b1)"/>
<rect x="150.4" y="559.50" width="30.6" height="7.6" rx="3.80" fill="#000" opacity="1" filter="url(#b1)"/>
<rect x="184.2" y="560.60" width="27.8" height="6.4" rx="3.20" fill="#000" opacity="1" filter="url(#b1)"/>
<text x="114.5" y="583.4" font-size="12" text-anchor="middle" font-weight="normal" fill="#000" stroke="#000" stroke-width="0.2">Glucose</text>
<text x="188" y="583.4" font-size="12" text-anchor="middle" font-weight="normal" fill="#000" stroke="#000" stroke-width="0.2">Fructose</text>
<line x1="81.8" y1="589.4" x2="228.2" y2="589.4" stroke="#222" stroke-width="1.25"/>
<text x="154" y="601.8" font-size="12" text-anchor="middle" font-weight="normal" fill="#000" stroke="#000" stroke-width="0.2">Diet</text>
<text x="286.5" y="380.2" font-size="14.5" text-anchor="start" font-weight="bold" fill="#000" stroke="#000" stroke-width="0.1">G</text>
<line x1="354.2" y1="411" x2="354.2" y2="533.2" stroke="#111" stroke-width="1"/>
<line x1="351.3" y1="532.7" x2="354.2" y2="532.7" stroke="#111" stroke-width="1"/>
<text x="347.3" y="534.0" font-size="9.2" text-anchor="end" font-weight="normal" fill="#000" stroke="#000" stroke-width="0.2">0.0</text>
<line x1="351.3" y1="508.44" x2="354.2" y2="508.44" stroke="#111" stroke-width="1"/>
<text x="347.3" y="509.48" font-size="9.2" text-anchor="end" font-weight="normal" fill="#000" stroke="#000" stroke-width="0.2">0.2</text>
<line x1="351.3" y1="484.18" x2="354.2" y2="484.18" stroke="#111" stroke-width="1"/>
<text x="347.3" y="484.96000000000004" font-size="9.2" text-anchor="end" font-weight="normal" fill="#000" stroke="#000" stroke-width="0.2">0.4</text>
<line x1="351.3" y1="459.92" x2="354.2" y2="459.92" stroke="#111" stroke-width="1"/>
<text x="347.3" y="460.44000000000005" font-size="9.2" text-anchor="end" font-weight="normal" fill="#000" stroke="#000" stroke-width="0.2">0.6</text>
<line x1="351.3" y1="435.66" x2="354.2" y2="435.66" stroke="#111" stroke-width="1"/>
<text x="347.3" y="435.92" font-size="9.2" text-anchor="end" font-weight="normal" fill="#000" stroke="#000" stroke-width="0.2">0.8</text>
<line x1="351.3" y1="411.4" x2="354.2" y2="411.4" stroke="#111" stroke-width="1"/>
<text x="347.3" y="411.4" font-size="9.2" text-anchor="end" font-weight="normal" fill="#000" stroke="#000" stroke-width="0.2">1.0</text>
<text x="323" y="472.8" font-size="11.3" text-anchor="middle" font-weight="normal" fill="#000" transform="rotate(-90 323 472.8)" stroke="#000" stroke-width="0.2">BBM GLUT 2</text>
<rect x="372.6" y="409.3" width="19.6" height="123.1" fill="#fff" stroke="#111" stroke-width="0.9"/>
<line x1="402.8" y1="500.5" x2="402.8" y2="508.1" stroke="#111" stroke-width="0.8"/>
<rect x="392.2" y="508.1" width="20.8" height="24.3" fill="#000" stroke="#111" stroke-width="0.9"/>
<rect x="431.1" y="409.3" width="20.3" height="123.1" fill="#fff" stroke="#111" stroke-width="0.9"/>
<line x1="461.2" y1="468.8" x2="461.2" y2="478" stroke="#111" stroke-width="0.8"/>
<rect x="451.4" y="478" width="20.8" height="54.4" fill="#000" stroke="#111" stroke-width="0.9"/>
<text x="403" y="498.2" font-size="9.5" text-anchor="middle" font-weight="bold" fill="#000" letter-spacing="0.3" stroke="#000" stroke-width="0.2">***</text>
<text x="461.4" y="467.0" font-size="9.5" text-anchor="middle" font-weight="bold" fill="#000" letter-spacing="0.3" stroke="#000" stroke-width="0.2">***</text>
<text x="319.9" y="555" font-size="11.5" text-anchor="start" font-weight="bold" fill="#000" stroke="#000" stroke-width="0.2">Insulin</text>
<text x="383.3" y="554.3" font-size="14" text-anchor="middle" font-weight="bold" fill="#000" stroke="#000" stroke-width="0.7">-</text>
<text x="400.7" y="553" font-size="14" text-anchor="middle" font-weight="bold" fill="#000" stroke="#000" stroke-width="0.7">+</text>
<text x="443" y="554.3" font-size="14" text-anchor="middle" font-weight="bold" fill="#000" stroke="#000" stroke-width="0.7">-</text>
<text x="459.9" y="553" font-size="14" text-anchor="middle" font-weight="bold" fill="#000" stroke="#000" stroke-width="0.7">+</text>
<text x="391.3" y="572.5" font-size="12.2" text-anchor="middle" font-weight="normal" fill="#000" stroke="#000" stroke-width="0.2">Glucose</text>
<text x="451" y="572.5" font-size="12.2" text-anchor="middle" font-weight="normal" fill="#000" stroke="#000" stroke-width="0.2">Fructose</text>
<line x1="368.5" y1="580.3" x2="476.8" y2="580.3" stroke="#333" stroke-width="1"/>
<text x="422.2" y="595" font-size="12.2" text-anchor="middle" font-weight="normal" fill="#000" stroke="#000" stroke-width="0.2">Diet</text>
</g>
</svg>
</body></html>
